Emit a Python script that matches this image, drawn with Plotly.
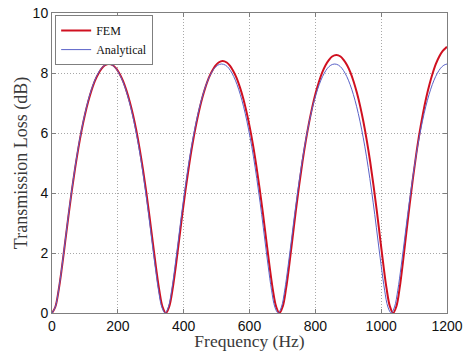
import plotly.graph_objects as go

# ---- data ----
ana_freq = [0, 10, 20, 30, 40, 50, 60, 70, 80, 90, 100, 110, 120, 130, 140, 150, 160, 172,
            183.5, 193.5, 203.5, 213.5, 223.5, 233.5, 243.5, 253.5, 263.5, 273.5, 283.5, 293.5, 303.5, 313.5, 323.5, 333.5, 343.5,
            353.5, 363.5, 373.5, 383.5, 393.5, 403.5, 413.5, 423.5, 433.5, 443.5, 453.5, 463.5, 473.5, 483.5, 493.5, 503.5, 515,
            527, 537, 547, 557, 567, 577, 587, 597, 607, 617, 627, 637, 647, 657, 667, 677, 687,
            697, 707, 717, 727, 737, 747, 757, 767, 777, 787, 797, 807, 817, 827, 837, 847, 859,
            870.5, 880.5, 890.5, 900.5, 910.5, 920.5, 930.5, 940.5, 950.5, 960.5, 970.5, 980.5, 990.5, 1000.5, 1010.5, 1020.5, 1030.5,
            1040.5, 1050.5, 1060.5, 1070.5, 1080.5, 1090.5, 1100.5, 1110.5, 1120.5, 1130.5, 1140.5, 1150.5, 1160.5, 1170.5, 1180.5, 1190.5, 1200]
ana_tl = [0, 0.20, 0.76, 1.54, 2.40, 3.28, 4.10, 4.86, 5.54, 6.13, 6.65, 7.09, 7.46, 7.76, 7.99, 8.16, 8.26, 8.30,
          8.26, 8.16, 7.99, 7.76, 7.46, 7.09, 6.65, 6.13, 5.54, 4.86, 4.10, 3.28, 2.40, 1.54, 0.76, 0.20, 0,
          0.20, 0.76, 1.54, 2.40, 3.28, 4.10, 4.86, 5.54, 6.13, 6.65, 7.09, 7.46, 7.76, 7.99, 8.16, 8.26, 8.30,
          8.26, 8.16, 7.99, 7.76, 7.46, 7.09, 6.65, 6.13, 5.54, 4.86, 4.10, 3.28, 2.40, 1.54, 0.76, 0.20, 0,
          0.20, 0.76, 1.54, 2.40, 3.28, 4.10, 4.86, 5.54, 6.13, 6.65, 7.09, 7.46, 7.76, 7.99, 8.16, 8.26, 8.30,
          8.26, 8.16, 7.99, 7.76, 7.46, 7.09, 6.65, 6.13, 5.54, 4.86, 4.10, 3.28, 2.40, 1.54, 0.76, 0.20, 0,
          0.20, 0.76, 1.54, 2.40, 3.28, 4.10, 4.86, 5.54, 6.13, 6.65, 7.09, 7.46, 7.76, 7.99, 8.16, 8.26, 8.30]

fem_freq = [0, 10, 20, 30, 40, 50, 60, 70, 80, 90, 100, 110, 120, 130, 140, 150, 160, 173,
            186, 196, 206, 216, 226, 236, 246, 256, 266, 276, 286, 296, 306, 316, 326, 336, 346,
            356, 366, 376, 386, 396, 406, 416, 426, 436, 446, 456, 466, 476, 486, 496, 506, 518.5,
            531, 541, 551, 561, 571, 581, 591, 601, 611, 621, 631, 641, 651, 661, 671, 681, 691,
            701, 711, 721, 731, 741, 751, 761, 771, 781, 791, 801, 811, 821, 831, 841, 851, 864,
            876.5, 886.5, 896.5, 906.5, 916.5, 926.5, 936.5, 946.5, 956.5, 966.5, 976.5, 986.5, 996.5, 1006.5, 1016.5, 1026.5, 1036.5,
            1046.5, 1056.5, 1066.5, 1076.5, 1086.5, 1096.5, 1106.5, 1116.5, 1126.5, 1136.5, 1146.5, 1156.5, 1166.5, 1176.5, 1186.5, 1196.5, 1200]
fem_tl = [0, 0.20, 0.75, 1.51, 2.37, 3.24, 4.06, 4.81, 5.49, 6.09, 6.61, 7.05, 7.42, 7.73, 7.96, 8.14, 8.25, 8.30,
          8.25, 8.14, 7.96, 7.73, 7.42, 7.05, 6.61, 6.09, 5.49, 4.81, 4.06, 3.24, 2.37, 1.51, 0.75, 0.20, 0,
          0.21, 0.77, 1.55, 2.42, 3.30, 4.13, 4.89, 5.58, 6.18, 6.70, 7.15, 7.52, 7.83, 8.06, 8.24, 8.35, 8.40,
          8.35, 8.24, 8.06, 7.83, 7.52, 7.15, 6.70, 6.18, 5.58, 4.89, 4.13, 3.30, 2.42, 1.55, 0.77, 0.21, 0,
          0.22, 0.81, 1.62, 2.52, 3.43, 4.27, 5.05, 5.74, 6.35, 6.88, 7.33, 7.71, 8.02, 8.26, 8.43, 8.55, 8.60,
          8.55, 8.43, 8.26, 8.02, 7.71, 7.33, 6.88, 6.35, 5.74, 5.05, 4.27, 3.43, 2.52, 1.62, 0.81, 0.22, 0,
          0.23, 0.86, 1.73, 2.68, 3.61, 4.49, 5.29, 6.00, 6.62, 7.16, 7.61, 7.99, 8.31, 8.55, 8.73, 8.84, 8.87]

x_ticks = [0, 200, 400, 600, 800, 1000, 1200]
y_ticks = [0, 2, 4, 6, 8, 10]

fig = go.Figure()
fig.add_trace(go.Scatter(x=fem_freq, y=fem_tl, mode="lines", name="FEM",
                         line=dict(color="#d01020", width=2, shape="spline")))
fig.add_trace(go.Scatter(x=ana_freq, y=ana_tl, mode="lines", name="Analytical",
                         line=dict(color="#5a62c8", width=1, shape="spline")))

axis_common = dict(showline=True, linecolor="#7f7f7f", linewidth=1, mirror="allticks",
                   ticks="inside", ticklen=4, tickcolor="#7f7f7f",
                   showgrid=True, gridcolor="#a8a8a8", griddash="1px,2px", gridwidth=1,
                   zeroline=False,
                   tickfont=dict(family="Liberation Sans, Arial", size=14, color="#111"))

fig.update_xaxes(range=[0, 1200], tickvals=x_ticks, ticklabelstandoff=0, **axis_common,
                 title=dict(text="Frequency (Hz)", standoff=10,
                            font=dict(family="Liberation Serif, Times New Roman", size=17.5, color="#3a3a3a")))
fig.update_yaxes(range=[0, 10], tickvals=y_ticks, **axis_common,
                 title=dict(text="Transmission Loss (dB)", standoff=0,
                            font=dict(family="Liberation Serif, Times New Roman", size=18, color="#3a3a3a")))

fig.update_layout(
    width=474, height=351,
    margin=dict(l=52, r=27, t=13, b=38, autoexpand=False),
    paper_bgcolor="white", plot_bgcolor="white",
    showlegend=True,
    legend=dict(x=0.008, y=0.993, xanchor="left", yanchor="top",
                bgcolor="white", bordercolor="#7f7f7f", borderwidth=1,
                font=dict(family="Liberation Serif, Times New Roman", size=12, color="#111"),
                tracegroupgap=0, itemwidth=30),
)

fig.write_html("out.html")
